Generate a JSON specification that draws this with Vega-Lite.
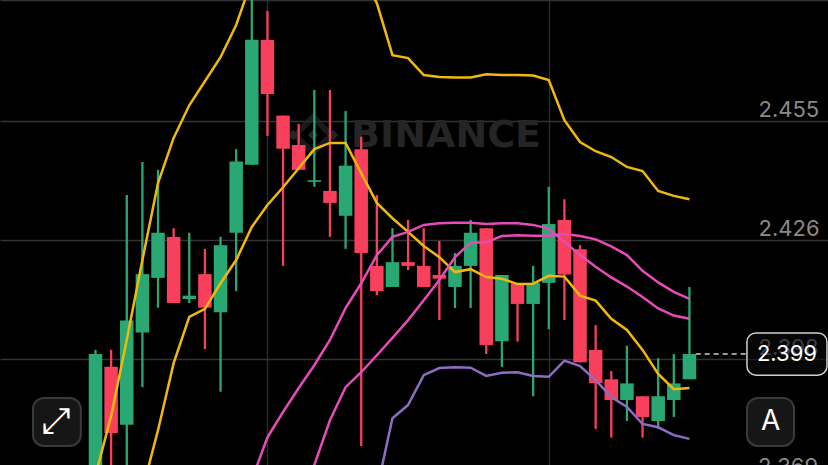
{
  "$schema": "https://vega.github.io/schema/vega-lite/v6.json",
  "width": 828,
  "height": 465,
  "padding": 0,
  "autosize": "none",
  "background": "#000000",
  "config": {"view": {"stroke": null}},
  "resolve": {"scale": {"color": "independent"}},
  "datasets": {
    "candles": [
      {"i":0,"dir":"up","open":2.3683,"close":2.3987,"high":2.3997,"low":2.3659,"upper":2.3694},
      {"i":1,"dir":"down","open":2.3956,"close":2.3796,"high":2.3997,"low":2.3659,"upper":2.3837},
      {"i":2,"dir":"up","open":2.3816,"close":2.4068,"high":2.4371,"low":2.3659,"upper":2.4021},
      {"i":3,"dir":"up","open":2.4039,"close":2.4180,"high":2.4451,"low":2.3907,"upper":2.4214,"middle":2.3658},
      {"i":4,"dir":"up","open":2.4171,"close":2.4280,"high":2.4432,"low":2.4099,"upper":2.4400,"middle":2.3803},
      {"i":5,"dir":"down","open":2.4270,"close":2.4110,"high":2.4291,"low":2.4110,"upper":2.4509,"middle":2.3965},
      {"i":6,"dir":"up","open":2.4120,"close":2.4128,"high":2.4280,"low":2.4110,"upper":2.4588,"middle":2.4077},
      {"i":7,"dir":"down","open":2.4180,"close":2.4099,"high":2.4241,"low":2.3999,"upper":2.4646,"middle":2.4096},
      {"i":8,"dir":"up","open":2.4088,"close":2.4250,"high":2.4270,"low":2.3896,"upper":2.4704,"middle":2.4158},
      {"i":9,"dir":"up","open":2.4280,"close":2.4452,"high":2.4482,"low":2.4139,"upper":2.4782,"middle":2.4214},
      {"i":10,"dir":"up","open":2.4444,"close":2.4746,"high":2.4890,"low":2.4444,"upper":2.4890,"middle":2.4294,"pink_a":2.3683},
      {"i":11,"dir":"down","open":2.4746,"close":2.4615,"high":2.4816,"low":2.4514,"upper":2.4963,"middle":2.4347,"pink_a":2.3786},
      {"i":12,"dir":"down","open":2.4563,"close":2.4483,"high":2.4563,"low":2.4200,"upper":2.4987,"middle":2.4390,"pink_a":2.3847},
      {"i":13,"dir":"down","open":2.4492,"close":2.4432,"high":2.4543,"low":2.4432,"upper":2.4999,"middle":2.4436,"pink_a":2.3905,"pink_b":2.3658},
      {"i":14,"dir":"up","open":2.4403,"close":2.4407,"high":2.4625,"low":2.4391,"upper":2.4999,"middle":2.4482,"pink_a":2.3960,"pink_b":2.3719},
      {"i":15,"dir":"down","open":2.4381,"close":2.4352,"high":2.4625,"low":2.4270,"upper":2.4987,"middle":2.4497,"pink_a":2.4021,"pink_b":2.3827},
      {"i":16,"dir":"up","open":2.4321,"close":2.4442,"high":2.4574,"low":2.4241,"upper":2.4963,"middle":2.4497,"pink_a":2.4098,"pink_b":2.3907},
      {"i":17,"dir":"down","open":2.4482,"close":2.4231,"high":2.4512,"low":2.3765,"upper":2.4902,"middle":2.4424,"pink_a":2.4158,"pink_b":2.3943},
      {"i":18,"dir":"down","open":2.4200,"close":2.4139,"high":2.4371,"low":2.4129,"upper":2.4835,"middle":2.4352,"pink_a":2.4226,"pink_b":2.3984,"lower":2.3658},
      {"i":19,"dir":"up","open":2.4149,"close":2.4209,"high":2.4291,"low":2.4149,"upper":2.4709,"middle":2.4315,"pink_a":2.4270,"pink_b":2.4026,"lower":2.3832},
      {"i":20,"dir":"down","open":2.4209,"close":2.4200,"high":2.4311,"low":2.4190,"upper":2.4702,"middle":2.4282,"pink_a":2.4282,"pink_b":2.4069,"lower":2.3864},
      {"i":21,"dir":"down","open":2.4200,"close":2.4149,"high":2.4291,"low":2.4149,"upper":2.4661,"middle":2.4248,"pink_a":2.4299,"pink_b":2.4117,"lower":2.3936},
      {"i":22,"dir":"down","open":2.4178,"close":2.4169,"high":2.4260,"low":2.4069,"upper":2.4656,"middle":2.4221,"pink_a":2.4303,"pink_b":2.4166,"lower":2.3953},
      {"i":23,"dir":"up","open":2.4149,"close":2.4200,"high":2.4231,"low":2.4098,"upper":2.4655,"middle":2.4185,"pink_a":2.4304,"pink_b":2.4221,"lower":2.3955},
      {"i":24,"dir":"up","open":2.4200,"close":2.4280,"high":2.4311,"low":2.4098,"upper":2.4655,"middle":2.4192,"pink_a":2.4304,"pink_b":2.4256,"lower":2.3954},
      {"i":25,"dir":"down","open":2.4291,"close":2.4009,"high":2.4291,"low":2.3987,"upper":2.4663,"middle":2.4173,"pink_a":2.4301,"pink_b":2.4257,"lower":2.3934},
      {"i":26,"dir":"up","open":2.4018,"close":2.4178,"high":2.4178,"low":2.3956,"upper":2.4661,"middle":2.4169,"pink_a":2.4303,"pink_b":2.4272,"lower":2.3942},
      {"i":27,"dir":"down","open":2.4158,"close":2.4108,"high":2.4158,"low":2.4017,"upper":2.4661,"middle":2.4156,"pink_a":2.4303,"pink_b":2.4274,"lower":2.3943},
      {"i":28,"dir":"up","open":2.4108,"close":2.4159,"high":2.4200,"low":2.3885,"upper":2.4660,"middle":2.4157,"pink_a":2.4299,"pink_b":2.4273,"lower":2.3934},
      {"i":29,"dir":"up","open":2.4159,"close":2.4301,"high":2.4391,"low":2.4047,"upper":2.4649,"middle":2.4176,"pink_a":2.4290,"pink_b":2.4273,"lower":2.3932},
      {"i":30,"dir":"down","open":2.4311,"close":2.4179,"high":2.4361,"low":2.4069,"upper":2.4552,"middle":2.4174,"pink_a":2.4258,"pink_b":2.4277,"lower":2.3971},
      {"i":31,"dir":"down","open":2.4240,"close":2.3967,"high":2.4250,"low":2.3967,"upper":2.4499,"middle":2.4128,"pink_a":2.4226,"pink_b":2.4272,"lower":2.3958},
      {"i":32,"dir":"down","open":2.3997,"close":2.3917,"high":2.4057,"low":2.3806,"upper":2.4477,"middle":2.4116,"pink_a":2.4198,"pink_b":2.4264,"lower":2.3924},
      {"i":33,"dir":"down","open":2.3926,"close":2.3876,"high":2.3946,"low":2.3785,"upper":2.4463,"middle":2.4072,"pink_a":2.4172,"pink_b":2.4247,"lower":2.3883},
      {"i":34,"dir":"up","open":2.3876,"close":2.3916,"high":2.4007,"low":2.3825,"upper":2.4439,"middle":2.4045,"pink_a":2.4150,"pink_b":2.4226,"lower":2.3859},
      {"i":35,"dir":"down","open":2.3885,"close":2.3835,"high":2.3885,"low":2.3785,"upper":2.4429,"middle":2.3997,"pink_a":2.4125,"pink_b":2.4188,"lower":2.3818},
      {"i":36,"dir":"up","open":2.3825,"close":2.3885,"high":2.3977,"low":2.3806,"upper":2.4381,"middle":2.3939,"pink_a":2.4097,"pink_b":2.4160,"lower":2.3810},
      {"i":37,"dir":"up","open":2.3876,"close":2.3916,"high":2.3987,"low":2.3835,"upper":2.4369,"middle":2.3902,"pink_a":2.4080,"pink_b":2.4137,"lower":2.3791},
      {"i":38,"dir":"up","open":2.3926,"close":2.3987,"high":2.4149,"low":2.3926,"upper":2.4361,"middle":2.3905,"pink_a":2.4072,"pink_b":2.4120,"lower":2.3782}
    ]
  },
  "encoding": {
    "x": {
      "field": "i",
      "type": "quantitative",
      "scale": {"domain": [-6.11, 46.865], "nice": false, "zero": false, "padding": 0},
      "axis": {"values": [11, 29], "title": null, "labels": false, "ticks": false, "domain": false, "grid": true, "gridColor": "#2b2b2b", "gridWidth": 1.5}
    },
    "y": {
      "field": "price",
      "type": "quantitative",
      "title": null,
      "scale": {"domain": [2.37189, 2.48423], "nice": false, "zero": false},
      "axis": {
        "orient": "right",
        "offset": -70,
        "values": [2.48423, 2.455, 2.42625, 2.3976],
        "labelExpr": "datum.value > 2.47 ? '' : format(datum.value, '.3f')",
        "title": null,
        "ticks": false,
        "domain": false,
        "grid": true,
        "gridColor": "#333333",
        "gridWidth": 1.5,
        "labelColor": "#8a8a8a",
        "labelFont": "Inter",
        "labelFontSize": 22,
        "labelAlign": "left",
        "labelBaseline": "middle",
        "labelOffset": -11,
        "labelPadding": 0,
        "labelOverlap": false,
        "labelBound": false,
        "labelFlush": false
      }
    }
  },
  "layer": [
    {
      "data": {"values": [{"i": 22.43, "price": 2.4514, "label": "BINANCE"}]},
      "mark": {"type": "text", "font": "DejaVu Sans", "fontWeight": "bold", "fontSize": 38, "color": "#252525", "align": "center", "baseline": "middle"},
      "encoding": {"text": {"field": "label"}}
    },
    {
      "data": {"values": [{"i": 13.92, "price": 2.4516}]},
      "mark": {"type": "point", "shape": "diamond", "filled": false, "color": "#252525", "strokeWidth": 6, "size": 1300},
      "encoding": {}
    },
    {
      "data": {"values": [
        {"i": 13.92, "price": 2.4516},
        {"i": 12.64, "price": 2.4516},
        {"i": 15.2, "price": 2.4516}
      ]},
      "mark": {"type": "point", "shape": "diamond", "filled": true, "color": "#252525", "opacity": 1, "size": 110},
      "encoding": {}
    },
    {
      "data": {"values": [{"i": 42.39, "price": 2.36875, "label": "2.369"}]},
      "mark": {"type": "text", "font": "Inter", "fontSize": 22, "color": "#8a8a8a", "align": "left", "baseline": "middle", "dy": -11},
      "encoding": {"text": {"field": "label"}}
    },
    {
      "data": {"name": "candles"},
      "mark": {"type": "rule", "strokeWidth": 2.3, "clip": true},
      "encoding": {
        "y": {"field": "high", "type": "quantitative", "title": null, "scale": {"domain": [2.37189, 2.48423], "nice": false, "zero": false}},
        "y2": {"field": "low"},
        "color": {"field": "dir", "type": "nominal", "scale": {"domain": ["up", "down"], "range": ["#2aa874", "#f83f5c"]}, "legend": null}
      }
    },
    {
      "data": {"name": "candles"},
      "mark": {"type": "bar", "size": 13.5, "clip": true},
      "encoding": {
        "y": {"field": "open", "type": "quantitative", "title": null, "scale": {"domain": [2.37189, 2.48423], "nice": false, "zero": false}},
        "y2": {"field": "close"},
        "color": {"field": "dir", "type": "nominal", "scale": {"domain": ["up", "down"], "range": ["#2aa874", "#f83f5c"]}, "legend": null}
      }
    },
    {
      "data": {"name": "candles"},
      "transform": [{"fold": ["upper", "middle", "pink_a", "pink_b", "lower"], "as": ["band", "level"]}],
      "mark": {"type": "line", "strokeWidth": 2.5, "clip": true},
      "encoding": {
        "y": {"field": "level", "type": "quantitative", "title": null, "scale": {"domain": [2.37189, 2.48423], "nice": false, "zero": false}},
        "color": {"field": "band", "type": "nominal", "scale": {"domain": ["upper", "middle", "pink_a", "pink_b", "lower"], "range": ["#f0b90b", "#f0b90b", "#e64bb8", "#e64bb8", "#8e6bc4"]}, "legend": null},
        "order": {"field": "i", "type": "quantitative"}
      }
    },
    {
      "data": {"values": [{"i": 38.4, "i2": 41.68, "price": 2.3987}]},
      "mark": {"type": "rule", "color": "#cfcfcf", "strokeWidth": 1.5, "strokeDash": [5, 4]},
      "encoding": {"x2": {"field": "i2"}}
    },
    {
      "data": {"values": [
        {"name": "expand", "i": -4.0, "i2": -0.94, "price": 2.3881, "price2": 2.3765},
        {"name": "auto", "i": 41.68, "i2": 44.69, "price": 2.3881, "price2": 2.3765}
      ]},
      "mark": {"type": "rect", "color": "#161616", "stroke": "#3a3a3a", "strokeWidth": 2, "cornerRadius": 11},
      "encoding": {"x2": {"field": "i2"}, "y2": {"field": "price2"}}
    },
    {
      "data": {"values": [{"i": 41.68, "i2": 46.8, "price": 2.4038, "price2": 2.3936}]},
      "mark": {"type": "rect", "color": "#0a0a0a", "fillOpacity": 0.6, "stroke": "#d0d0d0", "strokeWidth": 1.5, "cornerRadius": 9},
      "encoding": {"x2": {"field": "i2"}, "y2": {"field": "price2"}}
    },
    {
      "data": {"values": [{"i": 44.24, "price": 2.3987, "label": "2.399"}]},
      "mark": {"type": "text", "font": "Inter", "fontSize": 22, "color": "#ffffff", "align": "center", "baseline": "middle"},
      "encoding": {"text": {"field": "label"}}
    },
    {
      "data": {"values": [{"i": 43.2, "price": 2.3823, "label": "A"}]},
      "mark": {"type": "text", "font": "Inter", "fontSize": 28, "color": "#ffffff", "align": "center", "baseline": "middle"},
      "encoding": {"text": {"field": "label"}}
    },
    {
      "data": {"values": [{"i": -2.47, "price": 2.3823, "label": "⤢"}]},
      "mark": {"type": "text", "font": "DejaVu Sans", "fontSize": 36, "color": "#ffffff", "align": "center", "baseline": "middle"},
      "encoding": {"text": {"field": "label"}}
    }
  ]
}
